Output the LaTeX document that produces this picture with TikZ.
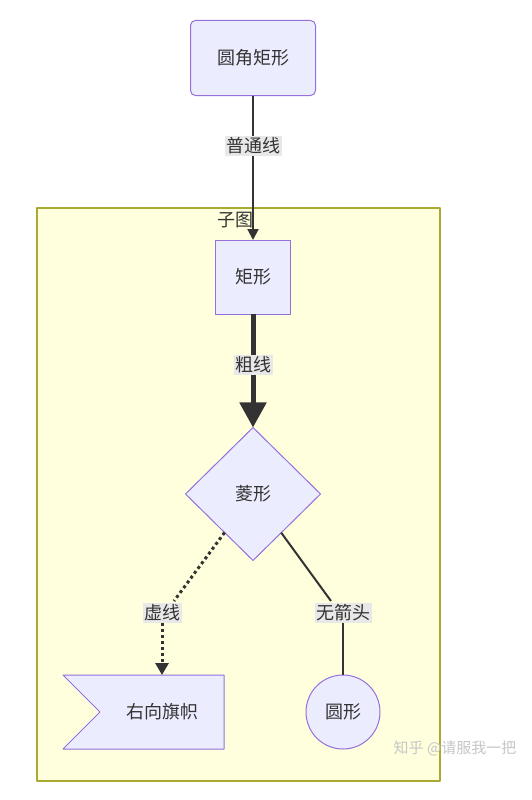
\documentclass[tikz,border=0pt]{standalone}
\usepackage{fontspec}
\setmainfont{Noto Sans CJK SC}
\usetikzlibrary{arrows.meta,shapes.geometric,shapes.symbols}
\definecolor{boxfill}{HTML}{ECECFF}
\definecolor{boxline}{HTML}{9370DB}
\definecolor{edgecol}{HTML}{333333}
\definecolor{subfill}{HTML}{FFFFDE}
\definecolor{subline}{HTML}{AAAA33}
\definecolor{lblfill}{HTML}{E8E8E8}
\begin{document}
\begin{tikzpicture}[x=1pt, y=-1pt, line join=round,
    every node/.style={font=\fontsize{18pt}{22pt}\selectfont, text=edgecol, outer sep=0pt},
    shp/.style={draw=boxline, fill=boxfill, line width=1pt},
    lbl/.style={fill=lblfill, inner sep=1.5pt},
    edge/.style={draw=edgecol, line width=2pt},
    dots/.style={edge, line width=3pt, dash pattern=on 3pt off 3pt},
    cluster/.style={draw=subline, fill=subfill, line width=1.2pt}]
  \useasboundingbox (0,0) rectangle (531,800);

  % subgraph
  \node[cluster, minimum width=403pt, minimum height=573pt] (sub) at (238.5,494.5) {};
  \node (subtitle) at (235,220) {子图};

  % nodes
  \node[shp, rounded corners=5pt, minimum width=125pt, minimum height=75pt] (rr) at (253,58) {圆角矩形};
  \node[shp, minimum width=75pt, minimum height=74pt] (rect) at (253,277) {矩形};
  \node[shp, diamond, aspect=1, inner sep=0pt, minimum width=135pt, minimum height=133pt] (dia) at (253,494) {菱形};
  \node[shp, signal, signal from=west, signal to=nowhere, signal pointer angle=90,
        minimum height=74pt, inner xsep=26pt] (flag) at (162,712) {右向旗帜};
  \node[shp, circle, minimum size=74pt, inner sep=0pt] (circ) at (343,712) {圆形};

  % edges
  \draw[edge, -{Triangle[length=11pt, width=11pt]}] (rr) -- node[lbl, pos=0.35]{普通线} (rect);
  \draw[edge, line width=5pt, -{Triangle[length=25pt, width=26pt]}] (rect) -- node[lbl, pos=0.45]{粗线} (dia);

  \node[lbl] (xu) at (162,613) {虚线};
  \coordinate (ka) at (174,601);
  \draw[dots] (dia) -- (ka);
  \draw[dots, -{Triangle[length=12pt, width=13pt]}] (xu) -- (flag);

  \node[lbl] (wu) at (343,613) {无箭头};
  \coordinate (kb) at (331,601);
  \draw[edge] (dia) -- (kb);
  \draw[edge] (wu) -- (circ);

  % watermark
  \node[text=gray!45, font=\fontsize{15pt}{18pt}\selectfont] (mark) at (455,748) {知乎 @请服我一把};
\end{tikzpicture}
\end{document}
